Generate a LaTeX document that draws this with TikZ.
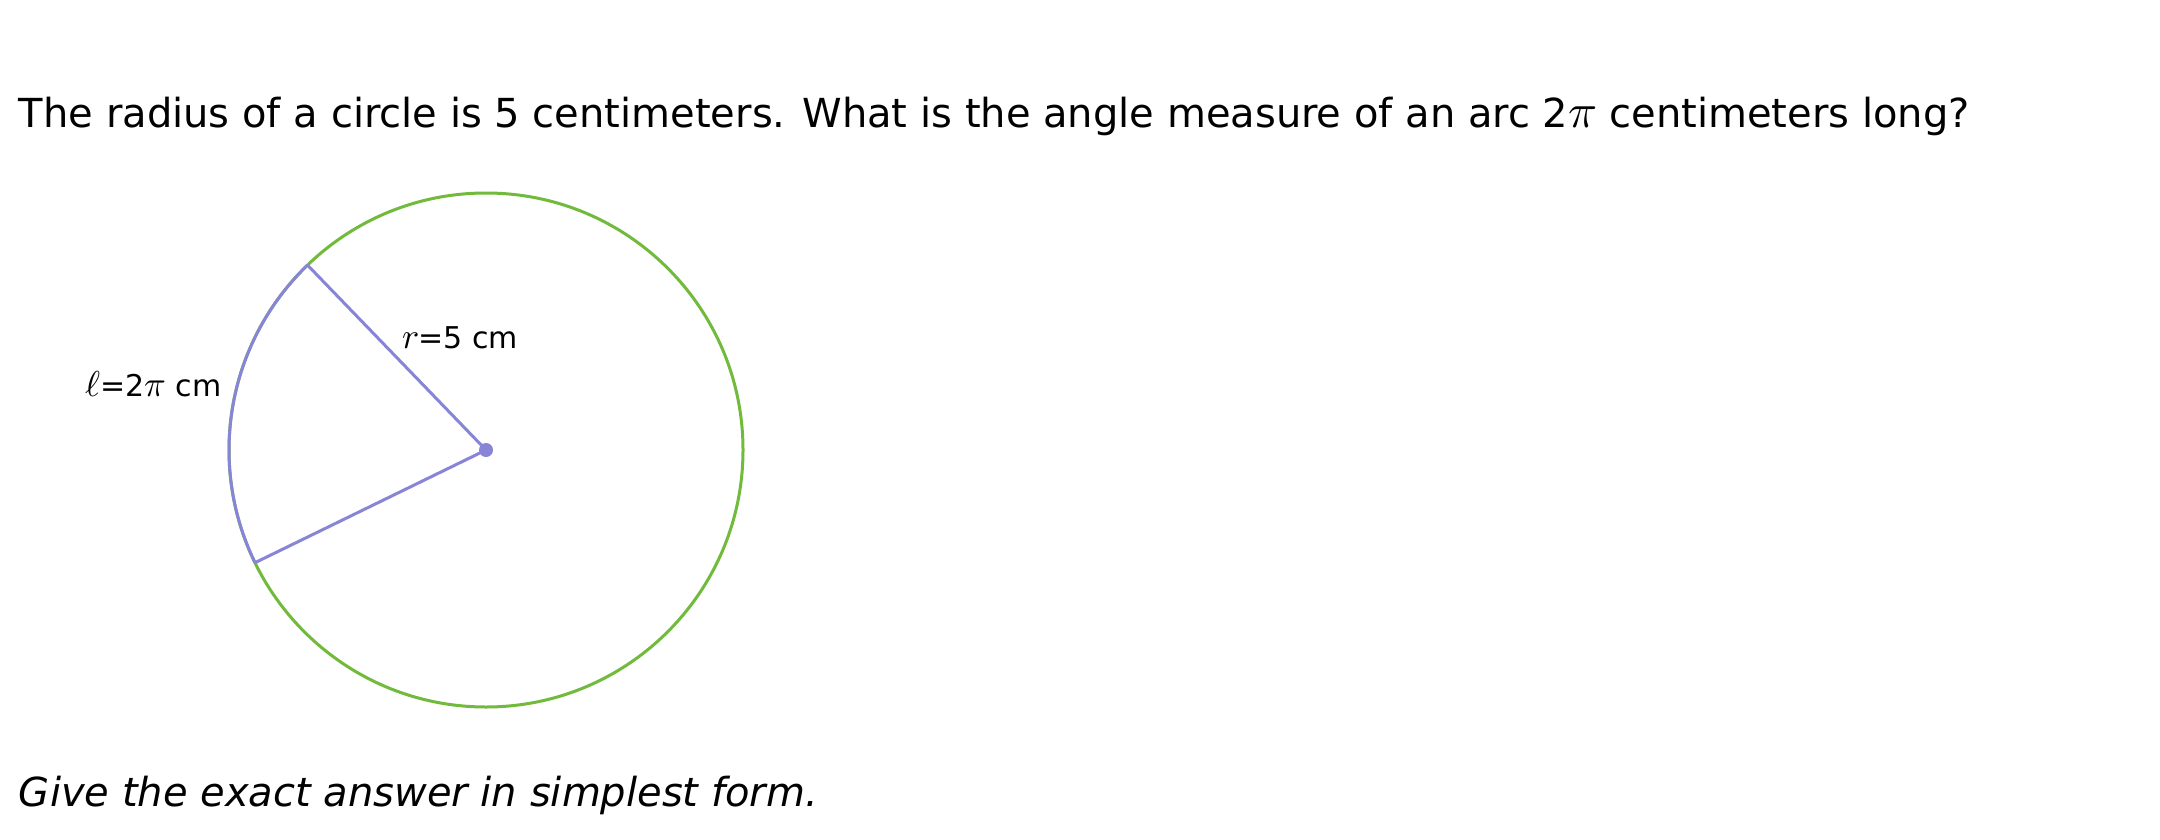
\documentclass[tikz,border=0pt]{standalone}
\usepackage{fontspec}
\usepackage{unicode-math}
\setmainfont{DejaVu Sans}
\setmathfont{Latin Modern Math}[Scale=1.2]
\definecolor{circgreen}{RGB}{113,186,60}
\definecolor{radpurple}{RGB}{136,132,216}
\begin{document}
\begin{tikzpicture}[x=1pt,y=-1pt,
  txt/.style={anchor=base west,inner sep=0pt,outer sep=0pt},
  big/.style={font=\fontsize{40}{48}\selectfont},
  lab/.style={font=\fontsize{30}{36}\selectfont},
  greenline/.style={draw=circgreen,line width=3pt},
  purpleline/.style={draw=radpurple,line width=3pt}]
\useasboundingbox[fill=white] (0,0) rectangle (2160,840);
\node[txt,big] (title) at (19,128) {The radius of a circle is 5 centimeters. What is the angle measure of an arc 2$\pi$ centimeters long?};
\node[txt,big] (hint) at (19,806) {\itshape Give the exact answer in simplest form.};
\coordinate (O) at (486,450);
\coordinate (A) at (307.5,265.1);
\coordinate (B) at (255.0,562.7);
\draw[greenline] (O) circle[radius=257pt];
\draw[purpleline] (A) arc[start angle=134,end angle=206,radius=257pt];
\draw[purpleline] (A) -- (O) -- (B);
\fill[radpurple] (O) circle[radius=7pt];
\node[txt,lab] (ell) at (85,396) {$\ell$=2$\pi$ cm};
\node[txt,lab] (rlab) at (402,348) {$r$=5 cm};
\end{tikzpicture}
\end{document}
